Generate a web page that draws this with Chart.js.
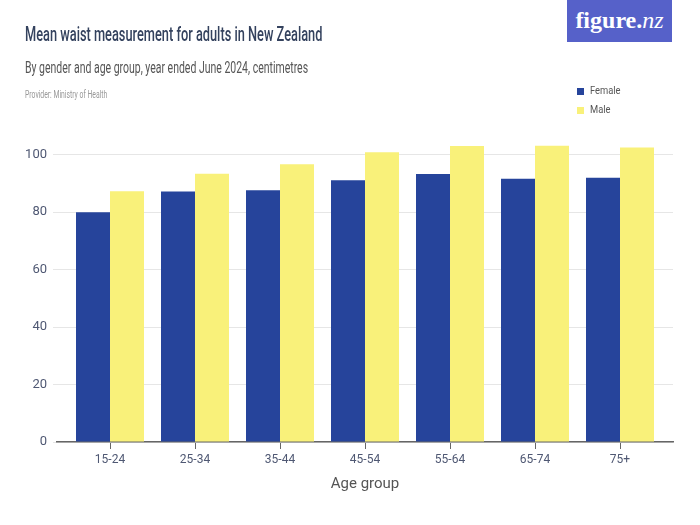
<!DOCTYPE html>
<html>
<head>
<meta charset="utf-8">
<script src="https://cdn.jsdelivr.net/npm/chart.js@4"></script>
<style>
  html, body { margin: 0; padding: 0; background: #fff; }
  #wrap { position: relative; width: 700px; height: 525px; overflow: hidden; }
  #chart { position: absolute; left: 0; top: 0; }
  .txt { position: absolute; white-space: nowrap; font-family: "Roboto", "Liberation Sans", sans-serif; transform-origin: left top; }
  #title { left: 25px; top: 22px; font-size: 20px; font-weight: 500; color: #34425e; transform: scaleX(0.64); }
  #subtitle { left: 25px; top: 58px; font-size: 16px; color: #555; transform: scaleX(0.655); }
  #provider { left: 25px; top: 88px; font-size: 11px; color: #999; transform: scaleX(0.62); }
  #logo { position: absolute; left: 567px; top: 0; width: 105px; height: 42px; background: #5661c9; color: #fff;
          font-family: "Liberation Serif", "DejaVu Serif", serif; font-weight: bold; font-size: 24px; text-align: center; line-height: 40px; }
  #logo i { font-weight: normal; }
  #legend { position: absolute; left: 577px; top: 84px; font-family: "Roboto", sans-serif; font-size: 11px; color: #555; }
  #legend div { height: 19px; line-height: 14px; }
  #legend span.sw { display: inline-block; width: 7px; height: 7px; margin-right: 6px; vertical-align: -1px; }
  #legend span.lb { display: inline-block; transform: scaleX(0.85); transform-origin: left center; }
</style>
</head>
<body>
<div id="wrap">
  <canvas id="chart" width="700" height="525"></canvas>
  <div id="title" class="txt">Mean waist measurement for adults in New Zealand</div>
  <div id="subtitle" class="txt">By gender and age group, year ended June 2024, centimetres</div>
  <div id="provider" class="txt">Provider: Ministry of Health</div>
  <div id="logo">figure.<i>nz</i></div>
  <div id="legend"></div>
</div>
<script>
const categories = ["15-24", "25-34", "35-44", "45-54", "55-64", "65-74", "75+"];
const femaleValues = [80.0, 87.2, 87.6, 91.1, 93.3, 91.6, 92.0];
const maleValues = [87.3, 93.4, 96.7, 100.9, 103.0, 103.1, 102.5];
const seriesNames = ["Female", "Male"];
const seriesColors = ["#26449b", "#f9f17a"];
const yTicks = [0, 20, 40, 60, 80, 100];

// HTML legend from series
const legendEl = document.getElementById('legend');
seriesNames.forEach((n, i) => {
  const d = document.createElement('div');
  d.innerHTML = '<span class="sw" style="background:' + seriesColors[i] + '"></span><span class="lb">' + n + '</span>';
  legendEl.appendChild(d);
});

const xInset = {
  id: 'xInset',
  afterLayout(chart) {
    const x = chart.scales.x;
    const inset = 10.5;
    x._startPixel += inset;
    x._endPixel -= inset;
    x._length -= 2 * inset;
  }
};

const tickFont = "Roboto, 'Liberation Sans', sans-serif";

new Chart(document.getElementById('chart'), {
  type: 'bar',
  data: {
    labels: categories,
    datasets: [
      { label: seriesNames[0], data: femaleValues, backgroundColor: seriesColors[0], borderWidth: 0 },
      { label: seriesNames[1], data: maleValues, backgroundColor: seriesColors[1], borderWidth: 0 }
    ]
  },
  options: {
    responsive: false,
    animation: false,
    devicePixelRatio: 1,
    layout: { padding: { left: 0, right: 27, top: 126, bottom: 30 } },
    plugins: { legend: { display: false }, tooltip: { enabled: false } },
    datasets: { bar: { categoryPercentage: 0.8, barPercentage: 1.0 } },
    scales: {
      x: {
        offset: true,
        grid: { display: true, drawOnChartArea: false, drawTicks: true, tickLength: 7, color: '#666', offset: false },
        border: { display: true, color: '#666', width: 1.5 },
        ticks: { color: '#4f5873', padding: 4, font: { family: tickFont, size: 12 } },
        title: { display: true, text: 'Age group', color: '#555', padding: { top: 4, bottom: 2 },
                 font: { family: tickFont, size: 15 } },
        afterFit(scale) { scale.height = 53; }
      },
      y: {
        min: 0, max: 110,
        grid: { color: '#e6e6e6', lineWidth: 1, drawTicks: true, tickLength: 4 },
        border: { display: false },
        ticks: { stepSize: 20, color: '#4f5873', padding: 6, font: { family: tickFont, size: 13 } },
        afterBuildTicks(scale) { scale.ticks = yTicks.map(v => ({ value: v })); },
        afterFit(scale) { scale.width = 57; }
      }
    }
  },
  plugins: [xInset]
});
</script>
</body>
</html>
